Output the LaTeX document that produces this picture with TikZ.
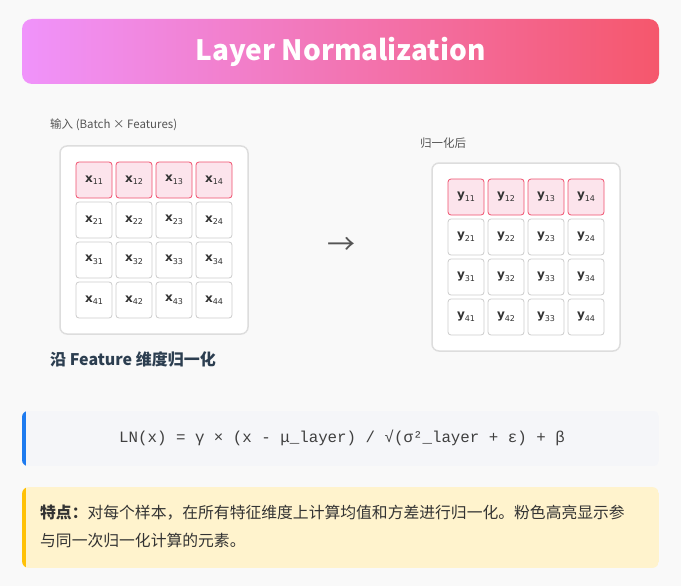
\documentclass[tikz,border=0pt]{standalone}
\usepackage{fontspec}
\setmainfont{Noto Sans CJK SC}
\newfontfamily\monof{Liberation Mono}
\newfontfamily\cellf{DejaVu Sans}
\usetikzlibrary{shadings}
\definecolor{bgc}{HTML}{F9F9F9}
\definecolor{tl}{HTML}{F093FB}
\definecolor{tr}{HTML}{F5576C}
\definecolor{pinkf}{HTML}{FCE4EC}
\definecolor{pinkd}{HTML}{F0506E}
\definecolor{celld}{HTML}{CCCCCC}
\definecolor{contd}{HTML}{DDDDDD}
\definecolor{txtg}{HTML}{555555}
\definecolor{dark}{HTML}{2C3E50}
\definecolor{fbg}{HTML}{F5F6F9}
\definecolor{blueb}{HTML}{1E7BF0}
\definecolor{nbg}{HTML}{FFF3CD}
\definecolor{nbd}{HTML}{FFC107}
\begin{document}
\begin{tikzpicture}[x=1pt,y=-1pt,
  cell/.style={draw=celld,fill=white,rounded corners=3pt,minimum width=36pt,minimum height=36pt,inner sep=0pt,line width=0.8pt,font=\cellf\fontsize{12}{13}\selectfont,text=black!80},
  hcell/.style={cell,draw=pinkd,fill=pinkf},
  cont/.style={draw=contd,fill=white,rounded corners=7pt,line width=1.5pt},
  lab/.style={anchor=west,font=\fontsize{11.5}{13}\selectfont,text=txtg,inner sep=0pt}]
\fill[bgc] (0,0) rectangle (681,586);
\useasboundingbox (0,0) rectangle (681,586);
% title
\shade[left color=tl,right color=tr,rounded corners=10pt] (22,19) rectangle (659,84);
\node[font=\bfseries\fontsize{28}{32}\selectfont,text=white] (title) at (340.5,52) {Layer Normalization};
% left
\node[lab] (inl) at (50,125) {输入 (Batch × Features)};
\draw[cont] (60,146) rectangle (248,334);
\foreach \r in {1,...,4}{\foreach \c in {1,...,4}{
  \ifnum\r=1 \def\st{hcell}\else\def\st{cell}\fi
  \node[\st] (x\r\c) at (54+40*\c,140+40*\r) {\textbf{x}\raisebox{-2.5pt}{\fontsize{8}{9}\selectfont\mdseries\r\c}};
}}
\node[anchor=west,inner sep=0pt,font=\bfseries\fontsize{16}{18}\selectfont,text=dark] (feat) at (50,359) {沿 Feature 维度归一化};
\node[font=\fontsize{28}{30}\selectfont,text=txtg] (arr) at (341,246) {→};
% right
\node[lab] (outl) at (420,143) {归一化后};
\draw[cont] (432,163) rectangle (620,351);
\foreach \r/\c/\s in {1/1/11,1/2/12,1/3/13,1/4/14,2/1/21,2/2/22,2/3/23,2/4/24,3/1/31,3/2/32,3/3/33,3/4/34,4/1/41,4/2/42,4/3/33,4/4/44}{
  \ifnum\r=1 \def\st{hcell}\else\def\st{cell}\fi
  \node[\st] (y\r\c) at (426+40*\c,157+40*\r) {\textbf{y}\raisebox{-2.5pt}{\fontsize{8}{9}\selectfont\mdseries\s}};
}
% formula
\begin{scope}
\clip[rounded corners=6pt] (22,411) rectangle (659,466);
\fill[fbg] (22,411) rectangle (659,466);
\fill[blueb] (22,411) rectangle (26,466);
\end{scope}
\node[font=\monof\fontsize{15.8}{17}\selectfont,text=black!75] (form) at (342,438) {LN(x) = γ × (x - μ\_layer) / √(σ²\_layer + ε) + β};
% note
\begin{scope}
\clip[rounded corners=7pt] (22,487) rectangle (659,568);
\fill[nbg] (22,487) rectangle (659,568);
\fill[nbd] (22,487) rectangle (26,568);
\end{scope}
\node[anchor=north west,inner sep=0pt,align=left,text width=610pt,font=\fontsize{15.8}{28}\selectfont,text=black!80] (note) at (40,505) {\textbf{特点：}对每个样本，在所有特征维度上计算均值和方差进行归一化。粉色高亮显示参\\与同一次归一化计算的元素。};
\end{tikzpicture}
\end{document}
